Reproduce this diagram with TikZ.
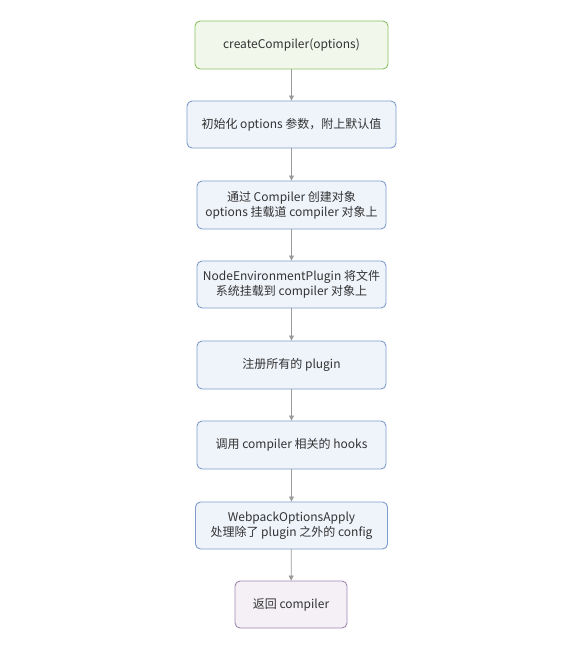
\documentclass[tikz,border=0pt]{standalone}
\usepackage{fontspec}
\setmainfont{Noto Sans CJK SC}
\usetikzlibrary{arrows.meta}
\definecolor{gborder}{HTML}{8CC063}
\definecolor{gfill}{HTML}{F1F7EA}
\definecolor{bborder}{HTML}{7E9CCB}
\definecolor{bfill}{HTML}{EFF3FA}
\definecolor{pborder}{HTML}{A088B0}
\definecolor{pfill}{HTML}{F4F0F6}
\definecolor{arrowc}{HTML}{9A9A9A}
\definecolor{txt}{HTML}{333333}
\tikzset{
  box/.style={draw=bborder, fill=bfill, line width=0.9pt, rounded corners=5pt,
    align=center, text=txt, font=\fontsize{12}{15}\selectfont, inner sep=0pt},
  greenbox/.style={box, draw=gborder, fill=gfill},
  purplebox/.style={box, draw=pborder, fill=pfill},
  conn/.style={draw=arrowc, line width=0.8pt, -{Triangle[length=5pt,width=5pt]}},
}
\begin{document}
\begin{tikzpicture}[x=1pt,y=-1pt]
\useasboundingbox (0,0) rectangle (578,650);
\node[greenbox, minimum width=193pt, minimum height=48pt] (n1) at (291.5,45) {createCompiler(options)};
\node[box, minimum width=209pt, minimum height=47pt] (n2) at (291.5,124.5) {初始化 options 参数，附上默认值};
\node[box, minimum width=189pt, minimum height=48pt] (n3) at (291.5,205) {通过 Compiler 创建对象\\options 挂载道 compiler 对象上};
\node[box, minimum width=189pt, minimum height=47pt] (n4) at (291.5,284.5) {NodeEnvironmentPlugin 将文件\\系统挂载到 compiler 对象上};
\node[box, minimum width=189pt, minimum height=48pt] (n5) at (291.5,365) {注册所有的 plugin};
\node[box, minimum width=189pt, minimum height=48pt] (n6) at (291.5,445) {调用 compiler 相关的 hooks};
\node[box, minimum width=192pt, minimum height=47pt] (n7) at (291.5,525.5) {WebpackOptionsApply\\处理除了 plugin 之外的 config};
\node[purplebox, minimum width=112pt, minimum height=47pt] (n8) at (291,604.5) {返回 compiler};
\draw[conn] (n1) -- (n2);
\draw[conn] (n2) -- (n3);
\draw[conn] (n3) -- (n4);
\draw[conn] (n4) -- (n5);
\draw[conn] (n5) -- (n6);
\draw[conn] (n6) -- (n7);
\draw[conn] (n7) -- (n8);
\end{tikzpicture}
\end{document}
